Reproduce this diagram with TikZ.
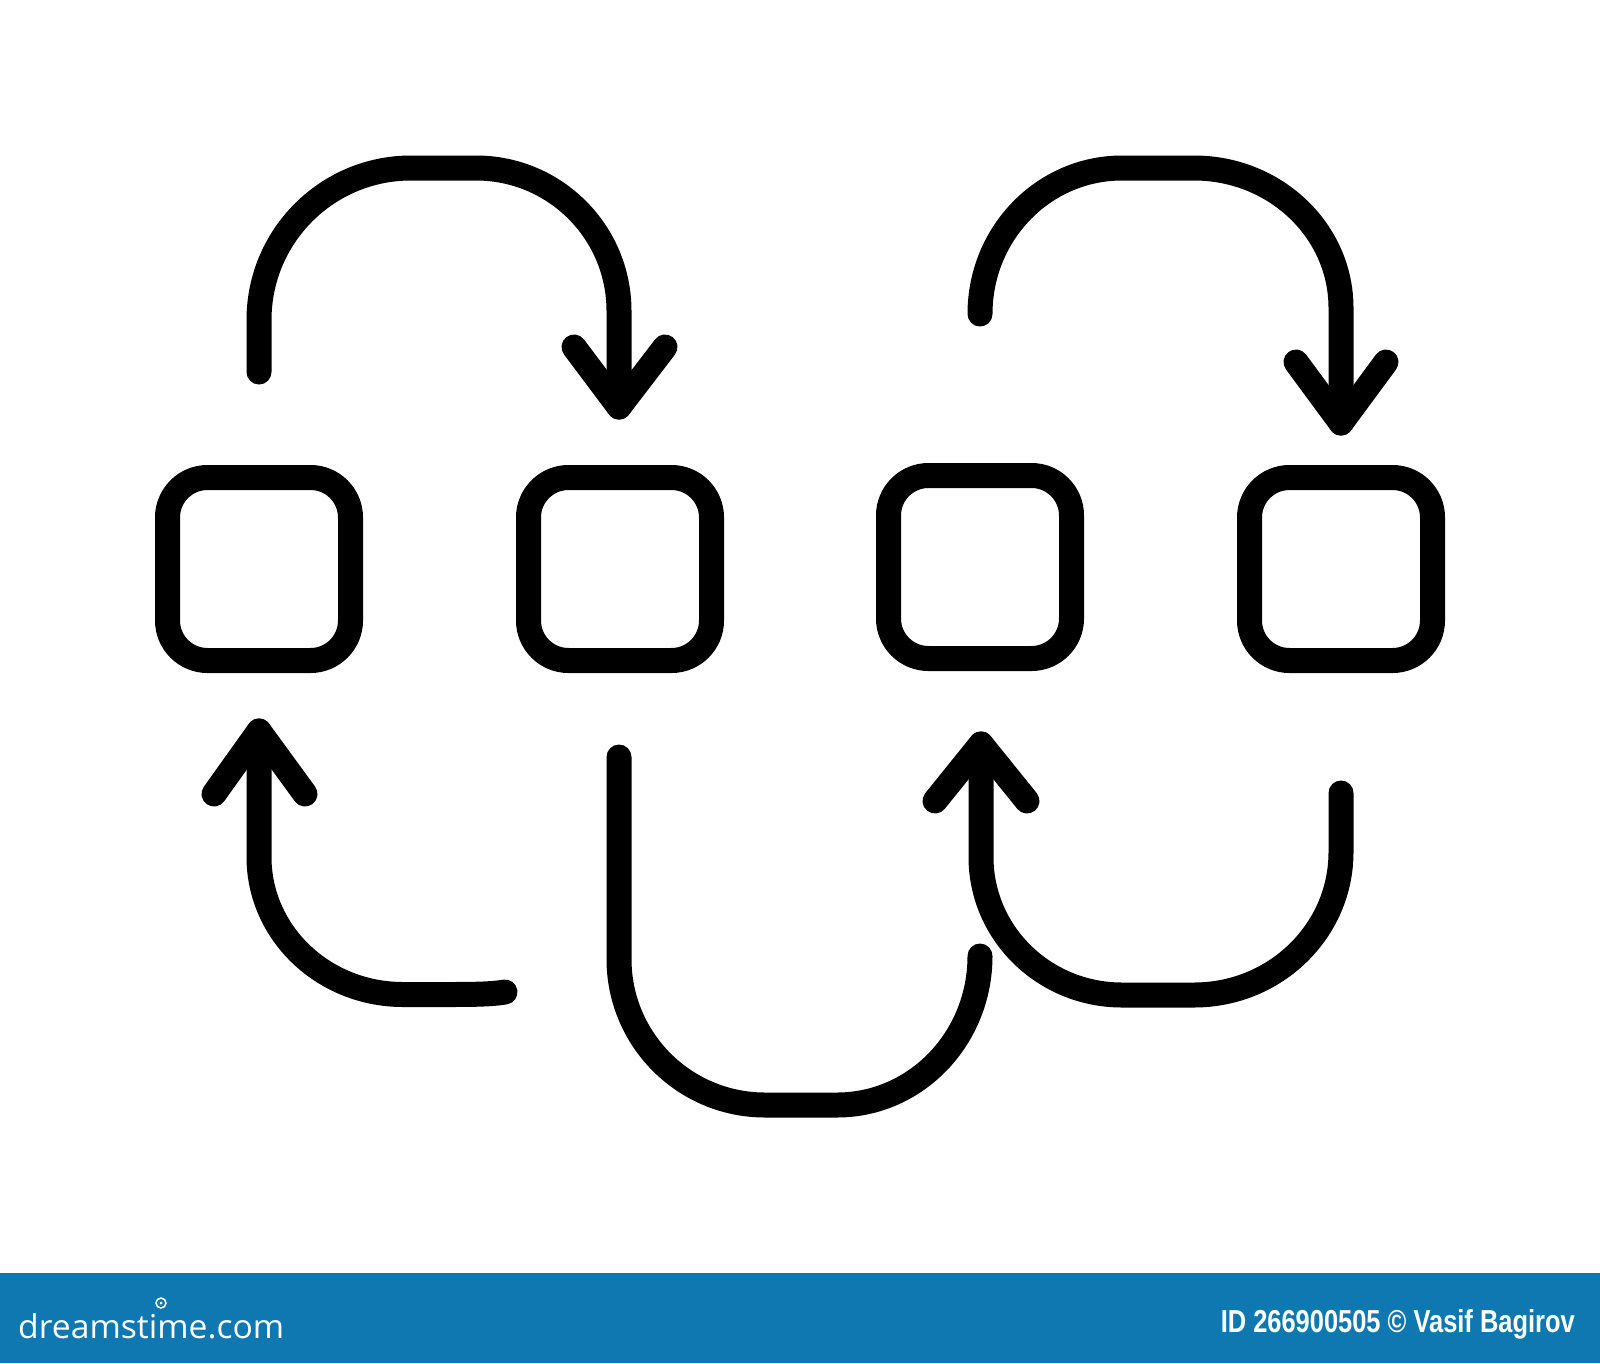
\documentclass[tikz,border=0pt]{standalone}
\usepackage{fontspec}
\setmainfont{Open Sans}
\newfontfamily\idfont{Liberation Sans}
\definecolor{bannerblue}{RGB}{15,120,176}
\begin{document}
\begin{tikzpicture}[x=1pt,y=1pt,
  stroke/.style={line width=25pt, line cap=round, line join=round, draw=black},
  stepbox/.style={draw=black, line width=25pt, rounded corners=40pt, minimum width=183pt, minimum height=183pt, inner sep=0pt},
  bantext/.style={text=white, inner sep=0pt}]
\useasboundingbox (0,0) rectangle (1600,-1363);
\fill[white] (0,0) rectangle (1600,-1363);
% boxes
\node[stepbox] (b1) at (259,-569) {};
\node[stepbox] (b2) at (620,-569) {};
\node[stepbox] (b3) at (980,-567) {};
\node[stepbox] (b4) at (1341,-569) {};
% connector end points
\coordinate (t1s) at (259,-372);
\coordinate (t1e) at (619,-407);
\coordinate (t2s) at (980,-314);
\coordinate (t2e) at (1341,-423);
\coordinate (l1s) at (505,-992);
\coordinate (l1e) at (259,-731);
\coordinate (us) at (619,-757);
\coordinate (ue) at (980,-956);
\coordinate (r1s) at (1341,-793);
\coordinate (r1e) at (981,-744);
% top arrow 1
\draw[stroke] (t1s) -- (259,-320) arc[start angle=180,end angle=90,radius=152]
  -- (476,-168) arc[start angle=90,end angle=0,radius=143] -- (t1e);
\draw[stroke] (574,-347) -- (t1e) -- (665,-347);
% top arrow 2
\draw[stroke] (t2s) arc[start angle=180,end angle=90,x radius=142,y radius=146]
  -- (1194,-168) arc[start angle=90,end angle=0,x radius=147,y radius=140] -- (t2e);
\draw[stroke] (1296,-362) -- (t2e) -- (1386,-362);
% bottom-left arrow
\draw[stroke] (l1s) .. controls (490,-994.5) and (470,-994.5) .. (440,-994.5) -- (403,-994.5)
  arc[start angle=270,end angle=180,x radius=144,y radius=137.5] -- (l1e);
\draw[stroke] (214,-794) -- (l1e) -- (305,-794);
% middle U
\draw[stroke] (us) -- (619,-959) arc[start angle=180,end angle=270,radius=146]
  -- (837,-1105) arc[start angle=270,end angle=360,x radius=143,y radius=149] -- (ue);
% bottom-right arrow
\draw[stroke] (r1s) -- (1341,-852) arc[start angle=0,end angle=-90,x radius=147,y radius=143]
  -- (1122,-995) arc[start angle=270,end angle=180,x radius=141,y radius=138] -- (r1e);
\draw[stroke] (935,-801) -- (r1e) -- (1027,-801);
% banner
\fill[bannerblue] (0,-1273) rectangle (1600,-1363);
\node[bantext, anchor=base west] (logo) at (18,-1338) {\resizebox{266pt}{25pt}{dreamstime.com}};
\node[bantext, anchor=base east] (credit) at (1575,-1332) {\resizebox{354pt}{23pt}{\idfont\bfseries ID 266900505 © Vasif Bagirov}};
\draw[white, line width=1.5pt] (161,-1303) circle (5);
\fill[white] (161,-1303) circle (1.5);
\end{tikzpicture}
\end{document}
